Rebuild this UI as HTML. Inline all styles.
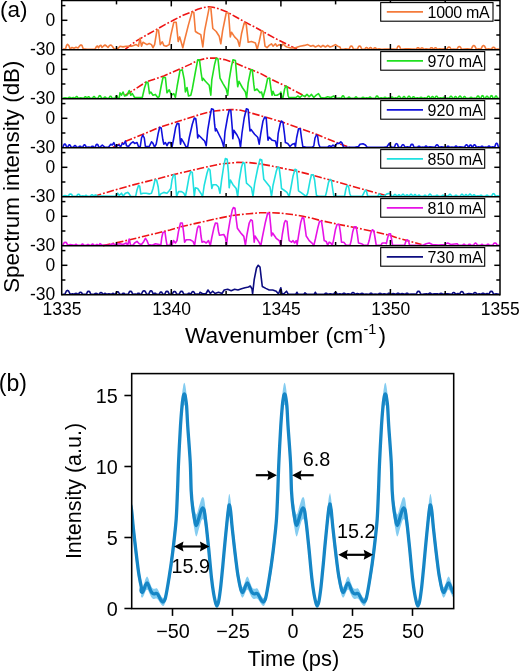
<!DOCTYPE html>
<html><head><meta charset="utf-8"><title>Figure</title>
<style>html,body{margin:0;padding:0;background:#fff}svg{display:block}text{font-family:"Liberation Sans",sans-serif;fill:#000}</style></head><body>
<svg width="520" height="671" viewBox="0 0 520 671">
<rect width="520" height="671" fill="#fff"/>
<g id="pa">
<polyline fill="none" stroke="#ee1414" stroke-width="1.6" stroke-dasharray="7.5 2 1.8 2" points="125.4,49.2 135.4,41.5 146.0,35.3 157.0,29.2 165.0,24.6 173.8,20.0 183.0,15.3 190.0,12.5 197.7,9.2 203.0,7.6 208.5,6.9 213.0,7.3 217.7,8.5 222.0,10.0 227.0,12.0 236.0,17.0 245.4,22.3 254.6,27.0 262.3,31.2 275.4,38.5 286.0,43.8 297.0,49.2"/>
<polyline fill="none" stroke="#f47a3a" stroke-width="1.6" stroke-linejoin="round" points="63.0,49.0 65.5,49.0 66.5,45.5 67.5,44.3 68.8,45.5 70.0,48.8 72.0,47.5 74.0,48.3 76.0,47.3 78.0,48.0 80.0,45.5 81.0,44.8 82.0,45.5 83.2,48.8 87.0,49.2 95.0,49.2 96.5,46.5 97.5,46.0 98.5,47.8 99.8,45.8 101.0,45.3 102.0,47.5 103.5,46.0 105.0,45.0 106.5,46.0 108.0,47.5 109.5,45.5 111.0,45.0 112.5,46.5 114.0,48.8 117.0,49.0 119.0,47.5 120.0,46.2 123.0,46.9 126.2,46.2 131.5,46.2 136.2,44.6 138.5,46.2 140.0,38.2 141.5,46.2 143.0,42.3 147.0,44.6 149.2,43.5 151.5,44.6 153.0,47.7 154.6,44.6 157.0,30.0 158.5,30.0 160.3,44.6 162.3,41.8 163.8,45.4 166.2,46.2 169.2,44.6 170.8,35.4 173.8,22.3 176.2,22.3 178.2,41.5 179.7,36.9 182.8,47.7 184.6,40.0 188.5,24.6 192.0,12.3 193.8,12.3 195.4,31.5 197.7,33.0 200.8,34.6 202.8,46.9 204.6,30.8 209.2,7.7 210.8,7.7 212.8,28.5 216.2,31.5 219.2,36.2 220.8,43.8 222.6,30.8 226.2,13.0 228.5,13.0 230.3,36.9 231.5,32.3 234.6,36.9 237.7,40.0 239.5,46.2 241.5,33.8 244.2,23.0 246.2,23.8 248.2,42.3 251.5,41.5 255.4,43.0 257.2,49.2 259.2,41.5 261.5,30.8 263.2,31.5 265.0,46.2 267.0,47.7 269.2,45.4 271.5,43.8 273.0,46.2 275.4,43.8 277.0,46.2 279.2,44.6 281.5,46.2 283.0,43.8 285.4,46.2 287.0,47.0 291.0,48.0 295.4,47.7 300.0,46.2 304.6,45.4 307.7,44.6 310.8,46.2 313.0,45.4 315.4,47.0 318.5,45.4 320.8,47.0 323.0,45.4 325.4,47.0 327.7,45.4 330.0,47.0 332.3,46.2 335.4,44.6 337.7,46.2 340.0,47.0 340.8,49.2 343.3,49.2 345.7,48.8 349.1,49.2 350.3,46.5 351.3,46.0 352.3,46.5 353.5,49.2 357.4,49.2 358.6,46.5 359.6,46.0 360.6,46.5 361.8,49.2 364.9,49.2 365.8,47.8 366.5,47.6 367.2,47.8 368.1,49.2 368.9,49.2 369.8,47.8 370.5,47.6 371.2,47.8 372.1,49.2 373.4,49.2 374.3,48.0 375.0,47.8 375.7,48.0 376.6,49.2 379.1,48.7 381.7,49.2 384.6,49.1 386.6,49.0 389.5,49.1 393.2,49.0 396.7,49.2 397.8,46.5 398.7,46.0 399.6,46.5 400.7,49.2 403.2,49.0 405.4,48.9 408.8,48.9 412.0,49.1 414.3,49.1 416.1,49.2 417.2,47.9 418.0,47.7 418.8,47.9 419.9,49.2 420.4,49.2 421.3,48.1 422.0,47.9 422.7,48.1 423.6,49.2 426.1,48.7 429.6,49.2 430.7,47.9 431.5,47.7 432.3,47.9 433.4,49.2 433.9,49.2 434.8,47.9 435.5,47.7 436.2,47.9 437.1,49.2 439.6,48.7 441.9,49.1 445.2,48.7 447.0,49.2 448.1,47.3 449.0,47.0 449.9,47.3 451.0,49.2 453.5,49.1 457.1,49.2 458.3,46.9 459.3,46.5 460.3,46.9 461.5,49.2 464.0,49.1 467.5,48.9 471.3,49.2 472.7,46.1 473.8,45.5 474.9,46.1 476.3,49.2 478.8,48.7 481.0,49.2 482.4,46.1 483.5,45.5 484.6,46.1 486.0,49.2 488.5,48.9 491.5,49.2 492.6,47.5 493.5,47.2 494.4,47.5 495.5,49.2 498.0,49.0 499.5,49.2"/>
<polyline fill="none" stroke="#ee1414" stroke-width="1.6" stroke-dasharray="7.5 2 1.8 2" points="125.4,95.2 135.4,89.0 146.0,82.0 163.8,76.0 181.5,68.2 190.0,64.4 197.7,60.5 207.0,58.2 216.2,58.0 225.4,59.8 234.6,62.8 243.8,66.7 251.5,69.8 260.8,73.6 269.2,78.2 278.5,82.8 287.0,86.7 295.4,91.3 304.6,96.0 308.0,98.0"/>
<polyline fill="none" stroke="#1fe01f" stroke-width="1.6" stroke-linejoin="round" points="62.5,98.2 65.0,97.9 68.2,98.2 68.9,97.4 69.5,97.2 70.1,97.4 70.8,98.2 73.3,97.6 75.3,98.2 76.1,96.8 76.7,96.6 77.3,96.8 78.1,98.2 80.6,97.9 84.0,98.2 84.8,96.9 85.4,96.7 86.0,96.9 86.8,98.2 87.2,98.2 88.0,96.9 88.6,96.7 89.2,96.9 90.0,98.2 92.6,98.2 93.4,96.8 94.0,96.6 94.6,96.8 95.4,98.2 98.1,98.2 99.1,96.0 99.8,95.6 100.5,96.0 101.5,98.2 103.7,98.2 104.4,97.2 105.0,97.0 105.6,97.2 106.3,98.2 109.0,98.2 109.8,96.5 110.5,96.2 111.2,96.5 112.0,98.2 115.1,98.2 115.9,96.3 116.5,96.0 117.1,96.3 117.9,98.2 119.2,98.2 120.0,92.8 121.5,95.2 123.0,92.0 124.6,96.0 127.0,95.2 129.2,90.5 130.8,95.2 132.3,93.6 134.6,97.5 142.3,97.5 144.6,87.5 146.5,82.0 148.0,82.8 149.5,93.6 150.8,92.0 153.0,95.2 155.4,94.4 157.7,97.5 159.2,96.7 161.2,86.0 163.0,77.5 165.4,77.5 167.0,92.8 169.2,89.8 171.5,95.2 173.8,93.6 175.4,97.5 177.2,86.0 180.0,70.5 182.3,69.8 184.3,79.8 185.4,92.0 187.0,87.5 188.5,96.0 190.8,95.2 192.3,89.0 195.4,72.0 197.7,59.8 199.5,59.8 201.0,72.0 202.3,80.5 203.0,78.2 205.4,81.3 209.2,85.2 210.8,95.2 211.8,79.8 214.6,64.4 216.2,58.2 218.0,59.0 220.0,78.2 223.0,83.6 226.2,89.0 227.7,95.2 229.2,79.8 231.5,66.0 233.0,59.8 235.4,60.5 237.0,79.8 237.7,86.7 239.0,81.3 242.3,87.5 245.4,92.0 246.6,98.2 248.2,82.8 250.8,69.8 252.3,69.8 253.8,84.4 254.6,90.5 257.0,89.0 260.0,92.8 261.5,92.0 263.0,97.5 265.4,89.0 267.7,78.2 269.5,78.2 271.0,89.0 272.0,95.2 273.0,91.3 274.6,95.2 277.0,95.2 280.0,93.6 280.8,92.0 281.8,98.2 283.0,97.5 284.6,89.0 285.8,86.0 287.0,86.7 288.0,95.2 289.2,98.2 290.8,97.5 296.0,97.5 297.7,96.0 300.0,97.5 302.3,95.2 304.6,96.7 307.0,94.4 309.2,96.7 311.5,94.4 313.8,97.5 316.2,95.2 318.5,93.6 320.8,97.5 324.6,98.0 327.7,96.7 330.8,97.5 333.8,96.0 335.4,98.2 340.0,98.0 340.8,98.2 341.4,98.2 342.3,96.1 343.0,95.7 343.7,96.1 344.6,98.2 347.6,98.2 348.4,97.2 349.0,97.0 349.6,97.2 350.4,98.2 352.9,98.2 354.6,98.2 355.4,97.1 356.0,96.9 356.6,97.1 357.4,98.2 359.9,98.2 361.7,98.2 362.4,97.4 363.0,97.2 363.6,97.4 364.3,98.2 366.8,97.7 368.6,98.2 369.4,97.2 370.0,97.0 370.6,97.2 371.4,98.2 375.4,98.2 376.3,96.3 377.0,96.0 377.7,96.3 378.6,98.2 381.1,97.9 383.7,98.2 384.4,97.4 385.0,97.2 385.6,97.4 386.3,98.2 388.8,97.9 390.7,98.2 391.4,97.2 392.0,97.0 392.6,97.2 393.3,98.2 395.8,97.8 397.4,98.2 398.3,96.5 399.0,96.2 399.7,96.5 400.6,98.2 402.6,98.2 403.4,96.8 404.0,96.6 404.6,96.8 405.4,98.2 407.4,98.2 408.3,96.5 409.0,96.2 409.7,96.5 410.6,98.2 412.1,98.2 412.9,96.9 413.5,96.7 414.1,96.9 414.9,98.2 417.4,97.9 419.7,98.2 420.4,97.4 421.0,97.2 421.6,97.4 422.3,98.2 424.8,97.9 426.9,98.2 427.8,96.5 428.5,96.2 429.2,96.5 430.1,98.2 431.1,98.2 431.9,96.8 432.5,96.6 433.1,96.8 433.9,98.2 434.9,98.2 435.8,96.5 436.5,96.2 437.2,96.5 438.1,98.2 440.6,97.8 442.7,98.2 443.4,97.4 444.0,97.2 444.6,97.4 445.3,98.2 447.8,98.0 449.4,98.2 450.3,96.5 451.0,96.2 451.7,96.5 452.6,98.2 454.1,98.2 454.9,96.8 455.5,96.6 456.1,96.8 456.9,98.2 458.4,98.2 459.3,96.4 460.0,96.1 460.7,96.4 461.6,98.2 463.1,98.2 463.9,96.8 464.5,96.6 465.1,96.8 465.9,98.2 469.7,98.2 470.4,97.4 471.0,97.2 471.6,97.4 472.3,98.2 474.8,98.0 476.4,98.2 477.3,96.3 478.0,96.0 478.7,96.3 479.6,98.2 480.9,98.2 481.8,96.0 482.5,95.6 483.2,96.0 484.1,98.2 485.5,98.2 486.3,96.5 487.0,96.2 487.7,96.5 488.5,98.2 489.9,98.2 490.8,96.0 491.5,95.6 492.2,96.0 493.1,98.2 494.6,98.2 495.4,96.3 496.0,96.0 496.6,96.3 497.4,98.2 499.5,98.2"/>
<polyline fill="none" stroke="#ee1414" stroke-width="1.6" stroke-dasharray="7.5 2 1.8 2" points="113.0,147.2 124.6,141.8 143.0,134.2 160.0,127.2 170.0,124.0 177.7,121.6 187.0,118.6 196.2,115.7 205.4,113.0 214.6,111.0 223.8,110.0 231.5,109.5 240.8,110.2 249.2,112.5 264.6,116.8 281.5,121.8 299.2,128.0 317.0,134.5 327.0,138.8 337.7,143.0 350.0,147.5"/>
<polyline fill="none" stroke="#1010dc" stroke-width="1.6" stroke-linejoin="round" points="62.5,147.2 62.9,147.2 64.0,144.5 64.8,144.0 65.6,144.5 66.7,147.2 67.8,147.2 68.7,145.2 69.4,144.8 70.1,145.2 71.1,147.2 73.5,147.2 74.3,145.8 75.0,145.6 75.7,145.8 76.5,147.2 78.7,147.2 79.4,146.3 80.0,146.2 80.6,146.3 81.3,147.2 82.8,147.2 83.8,145.1 84.5,144.7 85.2,145.1 86.2,147.2 88.7,147.1 91.2,147.2 91.9,146.3 92.5,146.2 93.1,146.3 93.8,147.2 95.2,147.2 96.2,144.6 97.0,144.2 97.8,144.6 98.8,147.2 99.2,147.2 100.0,147.2 102.3,145.0 104.6,147.2 108.5,147.2 110.8,144.2 112.3,145.0 113.8,142.6 115.4,146.5 118.5,145.0 120.8,146.5 122.3,143.4 123.8,144.2 125.4,141.0 126.5,145.7 128.5,146.5 130.8,143.4 133.0,141.8 134.6,143.4 137.0,142.6 138.5,146.5 140.3,146.5 141.5,138.0 142.8,135.0 144.3,138.0 145.4,146.5 149.2,146.5 151.5,141.8 153.0,143.4 154.6,147.2 156.2,144.2 158.2,133.4 159.7,127.2 161.2,128.0 162.8,139.5 163.8,144.2 165.4,142.6 167.0,145.7 168.5,142.6 170.8,142.6 172.0,147.2 173.5,139.5 175.7,127.2 177.2,123.4 178.9,123.8 180.0,138.0 180.5,144.2 181.5,138.8 183.8,142.6 186.2,147.2 187.7,146.5 189.2,138.0 192.3,124.2 194.3,118.0 195.8,118.8 197.0,128.8 197.7,138.0 198.5,135.0 202.3,138.8 204.6,141.0 206.2,145.7 207.7,130.3 210.0,116.5 211.5,108.8 213.4,109.5 214.6,124.2 215.4,131.0 216.2,128.8 219.2,135.0 221.5,139.5 223.0,144.2 223.8,147.2 225.0,131.8 227.7,116.5 229.2,110.3 230.8,110.3 232.3,128.8 232.8,138.8 233.8,130.3 237.0,135.0 239.2,139.5 240.5,147.2 242.0,133.0 244.2,118.0 246.4,108.8 248.1,109.5 249.2,122.6 250.0,131.0 251.0,129.5 254.6,134.2 257.7,137.2 259.2,144.2 260.8,133.4 263.0,121.0 264.6,117.2 266.2,118.0 267.4,133.4 268.0,140.3 269.0,137.2 272.3,140.3 275.4,141.0 277.0,147.2 278.2,133.4 280.3,123.4 281.5,121.0 283.0,122.6 284.6,135.0 285.4,142.6 287.7,143.4 290.0,146.5 292.3,144.2 294.6,143.4 295.4,147.2 296.6,138.0 298.5,128.8 300.3,128.8 301.5,138.0 302.8,146.5 306.2,147.2 312.3,147.2 313.8,146.0 315.0,138.0 316.4,135.0 317.6,136.0 318.7,144.0 320.0,147.2 327.7,147.2 329.2,145.7 331.5,146.5 333.0,145.0 334.6,146.5 337.0,143.4 339.2,143.4 340.8,141.8 342.3,143.4 343.5,147.2 354.6,147.2 358.5,146.5 360.0,144.2 363.0,143.8 365.4,145.0 367.2,147.2 383.8,147.2 387.0,146.8 389.2,143.4 391.0,146.8 391.8,147.2 394.5,147.2 395.6,144.1 396.5,143.6 397.4,144.1 398.5,147.2 401.1,147.2 402.2,145.0 403.0,144.6 403.8,145.0 404.9,147.2 407.4,146.7 410.0,147.2 411.1,144.6 412.0,144.2 412.9,144.6 414.0,147.2 417.7,147.2 418.4,146.3 419.0,146.2 419.6,146.3 420.3,147.2 422.8,147.0 424.6,147.2 425.4,146.2 426.0,146.0 426.6,146.2 427.4,147.2 429.9,146.8 435.1,147.2 436.2,145.1 437.0,144.7 437.8,145.1 438.9,147.2 441.4,146.9 445.1,147.2 446.7,147.2 447.4,146.3 448.0,146.2 448.6,146.3 449.3,147.2 451.8,147.1 454.6,147.2 455.4,146.2 456.0,146.0 456.6,146.2 457.4,147.2 459.9,146.8 464.6,147.2 465.7,145.1 466.5,144.7 467.3,145.1 468.4,147.2 468.9,147.2 469.8,145.3 470.5,145.0 471.2,145.3 472.1,147.2 472.7,147.2 473.7,145.1 474.5,144.7 475.3,145.1 476.3,147.2 478.8,146.9 480.7,147.2 481.4,146.3 482.0,146.2 482.6,146.3 483.3,147.2 485.8,147.0 487.6,147.2 488.4,146.2 489.0,146.0 489.6,146.2 490.4,147.2 492.9,146.9 494.7,147.2 495.8,143.8 496.6,143.2 497.4,143.8 498.5,147.2 499.5,147.2"/>
<polyline fill="none" stroke="#ee1414" stroke-width="1.6" stroke-dasharray="7.5 2 1.8 2" points="94.0,196.5 100.0,194.5 115.4,189.8 130.8,185.5 146.2,181.6 161.5,177.8 170.0,175.4 179.2,173.2 190.0,170.8 200.8,168.2 210.0,166.2 219.2,164.2 228.5,163.2 237.7,162.4 249.2,162.6 260.0,163.9 270.8,165.8 280.0,167.8 295.4,170.8 307.7,173.9 319.2,177.0 330.0,180.0 347.0,184.7 365.4,190.0 377.7,193.2 387.0,196.0"/>
<polyline fill="none" stroke="#1fe0e0" stroke-width="1.6" stroke-linejoin="round" points="62.5,196.2 65.0,195.6 68.3,196.2 69.5,194.3 70.5,194.0 71.5,194.3 72.7,196.2 76.6,196.2 77.7,194.5 78.5,194.2 79.3,194.5 80.4,196.2 82.9,195.8 84.7,196.2 85.4,195.5 86.0,195.4 86.6,195.5 87.3,196.2 90.3,196.2 91.3,194.9 92.0,194.7 92.7,194.9 93.7,196.2 94.1,196.2 94.9,195.1 95.5,194.9 96.1,195.1 96.9,196.2 99.2,196.2 100.0,196.0 115.4,196.2 117.7,193.2 119.2,195.5 121.5,193.2 123.0,196.2 125.4,193.2 127.7,192.4 129.2,193.9 130.8,196.5 135.7,196.2 137.0,190.0 138.5,185.5 139.7,186.2 140.8,193.9 143.0,193.2 146.2,193.2 149.2,193.9 151.5,193.2 153.0,188.5 155.0,180.0 156.6,180.0 158.2,187.0 159.2,196.2 160.8,193.9 163.8,192.4 167.0,193.2 169.2,190.8 170.8,188.5 172.0,180.0 173.5,174.7 175.0,175.5 175.9,187.0 176.6,196.5 178.5,191.6 181.5,191.6 183.8,193.2 185.4,196.5 187.0,188.5 189.2,176.2 190.8,171.6 192.3,172.4 193.4,185.5 194.3,196.2 195.4,187.8 197.7,188.5 200.8,193.2 202.6,196.5 204.2,185.5 207.0,173.2 208.5,168.5 210.0,170.0 211.2,182.4 211.8,188.5 213.0,184.7 216.2,184.7 218.5,187.0 220.0,193.2 221.5,180.8 223.8,165.5 225.4,158.5 227.2,159.3 228.5,173.2 229.2,187.8 230.3,180.0 233.0,184.7 236.2,188.5 237.7,196.5 239.2,180.8 241.5,167.0 243.0,162.4 244.6,163.2 245.8,176.2 246.5,183.2 249.2,185.5 251.5,187.8 253.0,196.5 254.6,183.9 257.7,168.5 260.0,159.3 261.8,160.0 263.0,171.6 263.8,179.3 267.0,183.2 270.0,187.0 271.5,196.5 273.0,185.5 276.2,171.6 277.7,167.0 279.2,167.8 280.8,180.8 281.5,188.5 283.8,190.0 287.0,192.4 289.2,196.5 290.8,188.5 293.0,176.2 295.0,169.3 296.6,170.0 297.7,180.8 298.5,190.8 300.8,192.4 303.8,194.7 306.2,196.5 307.7,193.2 310.0,180.8 311.5,174.7 313.3,174.7 314.6,180.0 315.4,187.0 316.5,195.5 318.5,196.2 325.4,196.2 326.6,191.6 328.5,182.4 330.0,179.3 331.5,180.8 332.8,190.0 333.8,196.2 344.6,196.2 345.7,190.0 347.0,185.5 348.5,186.2 349.7,193.2 350.8,196.2 362.3,196.2 363.8,193.2 365.4,190.0 366.6,191.6 367.7,196.2 377.7,196.2 379.2,193.9 380.8,195.5 383.8,196.2 387.0,193.9 390.0,193.2 391.5,196.0 392.3,196.2 393.4,196.2 394.3,194.7 395.0,194.4 395.7,194.7 396.6,196.2 397.6,196.2 398.4,195.0 399.0,194.8 399.6,195.0 400.4,196.2 401.4,196.2 402.3,194.5 403.0,194.2 403.7,194.5 404.6,196.2 405.6,196.2 406.4,194.9 407.0,194.7 407.6,194.9 408.4,196.2 409.4,196.2 410.3,194.5 411.0,194.2 411.7,194.5 412.6,196.2 413.6,196.2 414.4,194.8 415.0,194.6 415.6,194.8 416.4,196.2 417.7,196.2 418.4,195.2 419.0,195.0 419.6,195.2 420.3,196.2 423.7,196.2 424.4,195.4 425.0,195.3 425.6,195.4 426.3,196.2 428.4,196.2 429.3,194.4 430.0,194.1 430.7,194.4 431.6,196.2 434.1,196.1 435.7,196.2 436.4,195.4 437.0,195.3 437.6,195.4 438.3,196.2 441.7,196.2 442.4,195.3 443.0,195.2 443.6,195.3 444.3,196.2 446.8,195.8 448.4,196.2 449.3,194.5 450.0,194.2 450.7,194.5 451.6,196.2 454.7,196.2 455.4,195.4 456.0,195.3 456.6,195.4 457.3,196.2 460.4,196.2 461.3,194.5 462.0,194.2 462.7,194.5 463.6,196.2 464.6,196.2 465.4,194.8 466.0,194.6 466.6,194.8 467.4,196.2 468.4,196.2 469.3,194.4 470.0,194.1 470.7,194.4 471.6,196.2 472.6,196.2 473.4,195.0 474.0,194.8 474.6,195.0 475.4,196.2 477.9,195.7 479.7,196.2 480.4,195.4 481.0,195.3 481.6,195.4 482.3,196.2 485.7,196.2 486.4,195.3 487.0,195.2 487.6,195.3 488.3,196.2 491.6,196.2 492.7,194.0 493.5,193.6 494.3,194.0 495.4,196.2 497.9,195.7 499.5,196.2"/>
<polyline fill="none" stroke="#ee1414" stroke-width="1.6" stroke-dasharray="7.5 2 1.8 2" points="103.0,245.6 115.4,243.0 130.8,239.5 146.2,235.8 161.5,232.0 170.0,230.0 180.8,226.8 199.2,222.6 216.2,218.8 231.5,215.7 240.0,214.6 249.2,213.7 260.0,212.8 270.8,212.6 281.5,213.2 292.3,214.5 303.0,216.3 312.3,218.3 319.2,220.2 337.7,224.2 354.6,227.5 373.0,231.4 389.2,235.2 398.5,238.3 410.8,241.6 421.5,244.5"/>
<polyline fill="none" stroke="#e612e6" stroke-width="1.6" stroke-linejoin="round" points="62.5,245.2 62.9,245.2 64.2,242.6 65.3,242.2 66.4,242.6 67.7,245.2 70.2,244.6 74.7,245.2 75.4,244.5 76.0,244.4 76.6,244.5 77.3,245.2 81.1,245.2 81.9,244.3 82.5,244.1 83.1,244.3 83.9,245.2 86.7,245.2 87.4,244.6 88.0,244.5 88.6,244.6 89.3,245.2 91.2,245.2 92.0,244.3 92.6,244.1 93.2,244.3 94.0,245.2 95.8,245.2 96.5,244.6 97.0,244.5 97.5,244.6 98.2,245.2 99.2,245.2 100.0,243.7 102.3,245.2 109.2,245.2 112.3,243.7 115.4,244.5 120.0,243.7 123.0,244.5 126.2,243.0 127.7,245.2 129.2,239.0 130.5,245.2 133.0,245.2 134.6,243.0 137.0,241.4 139.2,243.7 141.5,244.5 143.8,241.4 145.4,238.3 147.0,240.6 148.5,244.5 152.3,245.2 155.4,243.7 159.2,244.5 160.8,245.2 161.8,237.5 163.0,232.2 165.0,232.2 166.2,240.6 167.0,245.2 170.0,245.2 171.0,241.5 172.2,244.5 173.5,240.6 175.4,243.0 177.0,240.6 178.5,231.4 180.5,223.0 182.3,223.0 183.5,231.4 184.6,242.2 186.2,239.8 190.0,239.8 193.0,241.4 194.6,245.2 195.8,237.5 197.4,228.3 198.5,226.0 200.0,226.8 201.0,236.0 202.0,242.2 203.8,241.4 206.2,243.0 208.5,240.6 210.3,245.5 211.8,237.5 213.8,228.3 215.4,223.0 217.4,223.4 218.5,231.4 219.5,235.2 223.8,234.5 225.4,237.5 226.6,245.5 227.7,234.5 230.0,220.6 232.3,209.8 233.4,207.5 235.0,208.3 236.2,219.0 237.4,228.3 240.8,233.0 243.8,236.4 245.4,245.2 247.0,234.5 249.2,223.0 250.8,219.8 252.3,220.6 253.5,233.0 254.2,242.2 255.0,236.0 258.5,241.4 260.8,245.5 262.3,237.5 265.4,222.2 267.7,213.0 269.5,213.7 270.8,226.8 271.5,236.0 272.6,233.0 276.2,238.3 279.2,240.6 280.8,245.5 282.3,234.5 284.3,223.0 285.4,220.6 287.0,221.4 288.5,236.0 289.2,240.6 291.5,242.2 293.0,240.6 294.6,243.0 296.2,240.6 297.2,244.5 298.5,236.0 300.8,222.2 302.3,217.5 303.8,218.3 305.4,229.8 306.2,236.0 309.2,240.6 312.3,243.4 313.8,245.5 315.4,239.0 317.7,228.3 319.5,221.4 321.5,221.4 323.0,231.4 324.2,240.6 326.2,241.4 327.7,245.2 329.2,242.2 330.8,243.0 332.3,245.2 333.4,240.6 335.4,229.8 337.0,224.5 339.2,224.5 340.5,233.0 341.5,242.2 343.8,242.2 346.2,245.2 350.0,245.2 351.2,240.6 352.8,231.4 354.3,226.8 356.2,226.8 357.4,234.5 358.5,243.0 361.5,243.7 363.8,245.2 367.7,245.2 369.2,240.6 370.8,233.0 372.3,229.8 373.8,230.6 375.0,237.5 376.2,245.2 380.8,245.2 382.3,243.0 385.4,243.0 386.4,243.7 387.7,237.5 389.0,233.7 390.5,233.7 391.5,239.0 392.6,245.2 404.6,245.2 405.8,241.4 407.0,239.8 408.5,240.6 409.5,245.2 423.0,245.2 426.2,243.7 429.2,243.0 432.3,244.5 438.5,245.0 444.6,244.5 447.7,243.0 450.8,244.5 457.0,243.7 458.5,245.0 459.3,245.2 462.6,245.2 463.4,244.4 464.0,244.3 464.6,244.4 465.4,245.2 468.1,245.2 468.9,244.3 469.5,244.2 470.1,244.3 470.9,245.2 473.6,245.2 474.7,243.4 475.5,243.1 476.3,243.4 477.4,245.2 480.7,245.2 481.4,244.5 482.0,244.4 482.6,244.5 483.3,245.2 486.7,245.2 487.4,244.4 488.0,244.3 488.6,244.4 489.3,245.2 492.8,245.2 494.0,243.2 495.0,242.9 496.0,243.2 497.2,245.2 499.5,245.2"/>
<polyline fill="none" stroke="#0c0c80" stroke-width="1.6" stroke-linejoin="round" points="62.5,294.2 64.9,294.2 66.4,291.0 67.5,290.4 68.6,291.0 70.1,294.2 72.6,293.7 74.4,294.2 75.3,293.5 76.0,293.4 76.7,293.5 77.6,294.2 78.5,294.2 79.6,292.5 80.5,292.2 81.4,292.5 82.5,294.2 86.4,294.2 87.6,291.6 88.6,291.2 89.6,291.6 90.8,294.2 94.4,294.2 95.3,293.5 96.0,293.4 96.7,293.5 97.6,294.2 99.2,294.2 100.2,292.8 101.0,292.6 101.8,292.8 102.8,294.2 103.6,294.2 104.4,293.5 105.0,293.4 105.6,293.5 106.4,294.2 108.9,293.7 111.6,294.2 112.4,293.5 113.0,293.4 113.6,293.5 114.4,294.2 115.4,294.2 116.6,292.1 117.5,291.7 118.4,292.1 119.6,294.2 122.1,294.2 122.9,293.3 123.5,293.2 124.1,293.3 124.9,294.2 128.3,294.2 129.5,291.6 130.5,291.2 131.5,291.6 132.7,294.2 135.2,294.0 136.9,294.2 137.8,293.3 138.5,293.2 139.2,293.3 140.1,294.2 141.4,294.2 142.9,291.2 144.0,290.7 145.1,291.2 146.6,294.2 148.7,294.2 150.0,291.3 151.0,290.8 152.0,291.3 153.3,294.2 153.6,294.2 154.4,293.3 155.0,293.2 155.6,293.3 156.4,294.2 159.3,294.2 160.3,292.2 161.0,291.9 161.7,292.2 162.7,294.2 164.8,294.2 166.0,291.6 167.0,291.2 168.0,291.6 169.2,294.2 172.2,294.2 173.5,291.8 174.5,291.4 175.5,291.8 176.8,294.2 179.2,294.2 180.5,291.6 181.5,291.2 182.5,291.6 183.8,294.2 187.6,294.2 188.4,293.3 189.0,293.2 189.6,293.3 190.4,294.2 190.9,294.2 192.1,292.0 193.0,291.6 193.9,292.0 195.1,294.2 197.6,294.0 199.2,294.2 200.0,292.3 202.3,293.5 205.8,294.0 208.0,290.0 210.4,293.5 212.7,291.2 215.0,293.5 218.5,292.3 222.0,293.5 224.2,290.0 227.7,289.3 231.2,290.7 234.6,289.3 238.0,290.0 241.5,288.8 245.0,287.7 248.5,287.0 250.3,286.0 252.0,288.8 252.6,294.0 254.2,279.6 256.5,268.0 258.2,265.3 260.0,267.0 261.2,277.3 262.3,286.5 265.8,288.4 269.2,290.0 272.7,290.0 276.2,291.2 278.5,294.0 280.8,287.7 282.0,294.0 284.2,293.5 286.5,291.2 288.2,294.2 295.8,294.2 297.0,292.3 298.0,294.2 303.8,294.2 305.0,292.8 306.6,294.2 314.2,294.2 315.4,292.3 316.5,294.2 320.0,294.2 320.8,294.2 324.4,294.2 325.3,293.3 326.0,293.2 326.7,293.3 327.6,294.2 330.1,293.9 333.7,294.2 334.7,292.8 335.5,292.6 336.3,292.8 337.3,294.2 339.8,293.9 342.4,294.2 343.3,293.4 344.0,293.3 344.7,293.4 345.6,294.2 348.1,293.7 351.2,294.2 352.2,292.8 353.0,292.6 353.8,292.8 354.8,294.2 357.3,293.6 360.4,294.2 361.3,293.5 362.0,293.4 362.7,293.5 363.6,294.2 366.1,294.1 369.4,294.2 370.3,293.3 371.0,293.2 371.7,293.3 372.6,294.2 375.1,294.1 378.4,294.2 379.3,293.5 380.0,293.4 380.7,293.5 381.6,294.2 384.1,293.8 387.4,294.2 388.3,293.3 389.0,293.2 389.7,293.3 390.6,294.2 393.1,293.6 396.4,294.2 397.3,293.4 398.0,293.3 398.7,293.4 399.6,294.2 402.1,293.6 405.4,294.2 406.3,293.3 407.0,293.2 407.7,293.3 408.6,294.2 411.1,294.0 414.3,294.0 416.2,294.2 417.5,291.6 418.5,291.2 419.5,291.6 420.8,294.2 423.3,294.1 426.6,293.7 428.3,294.2 429.3,293.3 430.0,293.1 430.7,293.3 431.7,294.2 434.2,293.8 437.3,293.8 439.4,294.2 440.3,293.5 441.0,293.4 441.7,293.5 442.6,294.2 445.1,293.9 447.8,293.9 451.9,294.2 452.9,292.8 453.7,292.6 454.5,292.8 455.5,294.2 458.0,293.6 459.6,294.2 460.8,292.0 461.8,291.6 462.8,292.0 464.0,294.2 466.5,294.0 468.7,293.6 471.1,293.8 473.2,294.2 474.2,292.8 475.0,292.6 475.8,292.8 476.8,294.2 479.3,293.9 481.4,294.2 482.3,293.4 483.0,293.3 483.7,293.4 484.6,294.2 487.1,293.6 489.0,294.2 490.3,291.6 491.3,291.2 492.3,291.6 493.6,294.2 496.1,293.9 499.5,294.2"/>
<g stroke="#000" stroke-width="1.5" fill="none">
<line x1="61.7" y1="0" x2="61.7" y2="295.4"/>
<line x1="500.0" y1="0" x2="500.0" y2="295.4"/>
<line x1="61.7" y1="0.5" x2="500.0" y2="0.5"/>
<line x1="61.7" y1="49.7" x2="500.0" y2="49.7"/>
<line x1="61.7" y1="5.6" x2="65.4" y2="5.6"/>
<line x1="500.0" y1="5.6" x2="496.3" y2="5.6"/>
<line x1="61.7" y1="20.3" x2="67.4" y2="20.3"/>
<line x1="500.0" y1="20.3" x2="494.3" y2="20.3"/>
<line x1="61.7" y1="35.0" x2="65.4" y2="35.0"/>
<line x1="500.0" y1="35.0" x2="496.3" y2="35.0"/>
<line x1="116.5" y1="49.7" x2="116.5" y2="46.0"/>
<line x1="171.3" y1="49.7" x2="171.3" y2="44.0"/>
<line x1="226.1" y1="49.7" x2="226.1" y2="46.0"/>
<line x1="280.9" y1="49.7" x2="280.9" y2="44.0"/>
<line x1="335.6" y1="49.7" x2="335.6" y2="46.0"/>
<line x1="390.4" y1="49.7" x2="390.4" y2="44.0"/>
<line x1="445.2" y1="49.7" x2="445.2" y2="46.0"/>
<line x1="61.7" y1="98.7" x2="500.0" y2="98.7"/>
<line x1="61.7" y1="54.6" x2="65.4" y2="54.6"/>
<line x1="500.0" y1="54.6" x2="496.3" y2="54.6"/>
<line x1="61.7" y1="69.3" x2="67.4" y2="69.3"/>
<line x1="500.0" y1="69.3" x2="494.3" y2="69.3"/>
<line x1="61.7" y1="84.0" x2="65.4" y2="84.0"/>
<line x1="500.0" y1="84.0" x2="496.3" y2="84.0"/>
<line x1="116.5" y1="98.7" x2="116.5" y2="95.0"/>
<line x1="171.3" y1="98.7" x2="171.3" y2="93.0"/>
<line x1="226.1" y1="98.7" x2="226.1" y2="95.0"/>
<line x1="280.9" y1="98.7" x2="280.9" y2="93.0"/>
<line x1="335.6" y1="98.7" x2="335.6" y2="95.0"/>
<line x1="390.4" y1="98.7" x2="390.4" y2="93.0"/>
<line x1="445.2" y1="98.7" x2="445.2" y2="95.0"/>
<line x1="61.7" y1="147.7" x2="500.0" y2="147.7"/>
<line x1="61.7" y1="103.6" x2="65.4" y2="103.6"/>
<line x1="500.0" y1="103.6" x2="496.3" y2="103.6"/>
<line x1="61.7" y1="118.3" x2="67.4" y2="118.3"/>
<line x1="500.0" y1="118.3" x2="494.3" y2="118.3"/>
<line x1="61.7" y1="133.0" x2="65.4" y2="133.0"/>
<line x1="500.0" y1="133.0" x2="496.3" y2="133.0"/>
<line x1="116.5" y1="147.7" x2="116.5" y2="144.0"/>
<line x1="171.3" y1="147.7" x2="171.3" y2="142.0"/>
<line x1="226.1" y1="147.7" x2="226.1" y2="144.0"/>
<line x1="280.9" y1="147.7" x2="280.9" y2="142.0"/>
<line x1="335.6" y1="147.7" x2="335.6" y2="144.0"/>
<line x1="390.4" y1="147.7" x2="390.4" y2="142.0"/>
<line x1="445.2" y1="147.7" x2="445.2" y2="144.0"/>
<line x1="61.7" y1="196.7" x2="500.0" y2="196.7"/>
<line x1="61.7" y1="152.6" x2="65.4" y2="152.6"/>
<line x1="500.0" y1="152.6" x2="496.3" y2="152.6"/>
<line x1="61.7" y1="167.3" x2="67.4" y2="167.3"/>
<line x1="500.0" y1="167.3" x2="494.3" y2="167.3"/>
<line x1="61.7" y1="182.0" x2="65.4" y2="182.0"/>
<line x1="500.0" y1="182.0" x2="496.3" y2="182.0"/>
<line x1="116.5" y1="196.7" x2="116.5" y2="193.0"/>
<line x1="171.3" y1="196.7" x2="171.3" y2="191.0"/>
<line x1="226.1" y1="196.7" x2="226.1" y2="193.0"/>
<line x1="280.9" y1="196.7" x2="280.9" y2="191.0"/>
<line x1="335.6" y1="196.7" x2="335.6" y2="193.0"/>
<line x1="390.4" y1="196.7" x2="390.4" y2="191.0"/>
<line x1="445.2" y1="196.7" x2="445.2" y2="193.0"/>
<line x1="61.7" y1="245.7" x2="500.0" y2="245.7"/>
<line x1="61.7" y1="201.6" x2="65.4" y2="201.6"/>
<line x1="500.0" y1="201.6" x2="496.3" y2="201.6"/>
<line x1="61.7" y1="216.3" x2="67.4" y2="216.3"/>
<line x1="500.0" y1="216.3" x2="494.3" y2="216.3"/>
<line x1="61.7" y1="231.0" x2="65.4" y2="231.0"/>
<line x1="500.0" y1="231.0" x2="496.3" y2="231.0"/>
<line x1="116.5" y1="245.7" x2="116.5" y2="242.0"/>
<line x1="171.3" y1="245.7" x2="171.3" y2="240.0"/>
<line x1="226.1" y1="245.7" x2="226.1" y2="242.0"/>
<line x1="280.9" y1="245.7" x2="280.9" y2="240.0"/>
<line x1="335.6" y1="245.7" x2="335.6" y2="242.0"/>
<line x1="390.4" y1="245.7" x2="390.4" y2="240.0"/>
<line x1="445.2" y1="245.7" x2="445.2" y2="242.0"/>
<line x1="61.7" y1="294.7" x2="500.0" y2="294.7"/>
<line x1="61.7" y1="250.6" x2="65.4" y2="250.6"/>
<line x1="500.0" y1="250.6" x2="496.3" y2="250.6"/>
<line x1="61.7" y1="265.3" x2="67.4" y2="265.3"/>
<line x1="500.0" y1="265.3" x2="494.3" y2="265.3"/>
<line x1="61.7" y1="280.0" x2="65.4" y2="280.0"/>
<line x1="500.0" y1="280.0" x2="496.3" y2="280.0"/>
<line x1="116.5" y1="294.7" x2="116.5" y2="291.0"/>
<line x1="171.3" y1="294.7" x2="171.3" y2="289.0"/>
<line x1="226.1" y1="294.7" x2="226.1" y2="291.0"/>
<line x1="280.9" y1="294.7" x2="280.9" y2="289.0"/>
<line x1="335.6" y1="294.7" x2="335.6" y2="291.0"/>
<line x1="390.4" y1="294.7" x2="390.4" y2="289.0"/>
<line x1="445.2" y1="294.7" x2="445.2" y2="291.0"/>
<line x1="116.5" y1="0.5" x2="116.5" y2="4.4"/>
<line x1="171.3" y1="0.5" x2="171.3" y2="6.4"/>
<line x1="226.1" y1="0.5" x2="226.1" y2="4.4"/>
<line x1="280.9" y1="0.5" x2="280.9" y2="6.4"/>
<line x1="335.6" y1="0.5" x2="335.6" y2="4.4"/>
<line x1="390.4" y1="0.5" x2="390.4" y2="6.4"/>
<line x1="445.2" y1="0.5" x2="445.2" y2="4.4"/>
</g>
<text x="55.2" y="26.3" font-size="17.5" text-anchor="end">0</text>
<text x="55.2" y="55.2" font-size="17.5" text-anchor="end">-30</text>
<text x="55.2" y="75.3" font-size="17.5" text-anchor="end">0</text>
<text x="55.2" y="104.2" font-size="17.5" text-anchor="end">-30</text>
<text x="55.2" y="124.3" font-size="17.5" text-anchor="end">0</text>
<text x="55.2" y="153.2" font-size="17.5" text-anchor="end">-30</text>
<text x="55.2" y="173.3" font-size="17.5" text-anchor="end">0</text>
<text x="55.2" y="202.2" font-size="17.5" text-anchor="end">-30</text>
<text x="55.2" y="222.3" font-size="17.5" text-anchor="end">0</text>
<text x="55.2" y="251.2" font-size="17.5" text-anchor="end">-30</text>
<text x="55.2" y="271.3" font-size="17.5" text-anchor="end">0</text>
<text x="55.2" y="300.2" font-size="17.5" text-anchor="end">-30</text>
<text x="62.0" y="315.3" font-size="17.5" text-anchor="middle">1335</text>
<text x="171.6" y="315.3" font-size="17.5" text-anchor="middle">1340</text>
<text x="281.2" y="315.3" font-size="17.5" text-anchor="middle">1345</text>
<text x="390.7" y="315.3" font-size="17.5" text-anchor="middle">1350</text>
<text x="500.3" y="315.3" font-size="17.5" text-anchor="middle">1355</text>
<rect x="380.7" y="2.6" width="112.3" height="18.6" fill="#fff" stroke="#000" stroke-width="1.1"/>
<line x1="386.8" y1="11.9" x2="423" y2="11.9" stroke="#f47a3a" stroke-width="1.6"/>
<text x="427.6" y="17.6" font-size="16" letter-spacing="-0.33">1000 mA</text>
<rect x="380.7" y="51.6" width="104.0" height="18.6" fill="#fff" stroke="#000" stroke-width="1.1"/>
<line x1="386.8" y1="60.9" x2="423" y2="60.9" stroke="#1fe01f" stroke-width="1.6"/>
<text x="427.6" y="66.6" font-size="16">970 mA</text>
<rect x="380.7" y="100.6" width="104.0" height="18.6" fill="#fff" stroke="#000" stroke-width="1.1"/>
<line x1="386.8" y1="109.9" x2="423" y2="109.9" stroke="#1010dc" stroke-width="1.6"/>
<text x="427.6" y="115.6" font-size="16">920 mA</text>
<rect x="380.7" y="149.6" width="104.0" height="18.6" fill="#fff" stroke="#000" stroke-width="1.1"/>
<line x1="386.8" y1="158.9" x2="423" y2="158.9" stroke="#1fe0e0" stroke-width="1.6"/>
<text x="427.6" y="164.6" font-size="16">850 mA</text>
<rect x="380.7" y="198.6" width="104.0" height="18.6" fill="#fff" stroke="#000" stroke-width="1.1"/>
<line x1="386.8" y1="207.9" x2="423" y2="207.9" stroke="#e612e6" stroke-width="1.6"/>
<text x="427.6" y="213.6" font-size="16">810 mA</text>
<rect x="380.7" y="247.6" width="104.0" height="18.6" fill="#fff" stroke="#000" stroke-width="1.1"/>
<line x1="386.8" y1="256.9" x2="423" y2="256.9" stroke="#0c0c80" stroke-width="1.6"/>
<text x="427.6" y="262.6" font-size="16">730 mA</text>
<text x="0" y="17" font-size="22.5">(a)</text>
<text transform="translate(18.5,292.8) rotate(-90)" font-size="22.35">Spectrum intensity (dB)</text>
<text x="185" y="343.3" font-size="22.7">Wavenumber (cm<tspan font-size="14.5" dy="-9.3" dx="0.3">-1</tspan><tspan dy="9.3" dx="2">)</tspan></text>
</g>
<g id="pb">
<clipPath id="cb"><rect x="131.7" y="373.6" width="322.0" height="235.0"/></clipPath>
<g clip-path="url(#cb)">
<path fill="#84ccf0" stroke="none" d="M121.6,582.8C122.0,578.7 123.0,566.8 123.8,558.2C124.5,549.5 125.3,539.4 126.1,531.0C126.9,522.6 127.8,513.4 128.4,507.8C129.0,502.2 129.2,499.8 129.6,497.5C129.9,495.2 130.1,493.6 130.5,494.0C130.8,494.4 131.2,496.2 131.7,500.0C132.2,503.8 132.6,510.1 133.3,516.8C134.0,523.5 135.0,532.1 135.9,540.0C136.8,547.9 137.9,558.7 138.6,564.4C139.3,570.1 139.7,571.4 140.1,574.1C140.5,576.9 141.1,579.0 141.3,580.9C141.4,582.7 140.9,584.2 141.0,585.3C141.1,586.4 141.7,587.2 142.1,587.2C142.5,587.3 142.8,586.6 143.2,585.8C143.6,585.0 144.0,583.7 144.4,582.5C144.8,581.2 145.2,579.5 145.7,578.5C146.1,577.5 146.7,576.4 147.1,576.4C147.5,576.4 148.0,577.5 148.4,578.5C148.8,579.5 149.2,581.0 149.7,582.3C150.2,583.6 150.7,585.3 151.2,586.2C151.7,587.2 152.0,587.7 152.5,588.2C153.0,588.6 153.6,588.8 154.1,588.8C154.6,588.9 155.2,588.4 155.7,588.4C156.2,588.4 156.8,588.2 157.3,588.7C157.8,589.2 158.4,590.4 158.9,591.5C159.4,592.5 160.0,594.0 160.5,595.0C161.0,596.0 161.4,596.8 161.9,597.3C162.3,597.8 162.8,598.2 163.2,598.1C163.6,598.0 163.9,597.6 164.3,596.7C164.7,595.9 165.1,595.0 165.5,593.1C165.9,591.1 166.4,588.1 166.9,585.0C167.4,581.8 167.8,579.2 168.5,574.1C169.2,569.0 170.3,561.5 171.2,554.3C172.1,547.1 173.1,538.7 173.9,531.0C174.7,523.3 175.6,516.3 176.2,507.8C176.8,499.3 177.1,489.6 177.5,480.0C177.9,470.4 178.1,461.4 178.6,450.5C179.1,439.6 179.9,423.9 180.5,414.7C181.1,405.4 181.6,399.7 182.0,395.0C182.4,390.3 182.8,388.4 183.1,386.5C183.4,384.6 183.6,384.2 183.8,383.6C184.0,383.0 184.1,382.8 184.3,382.8C184.5,382.8 184.6,383.0 184.8,383.6C185.0,384.2 185.2,384.6 185.5,386.5C185.8,388.4 186.2,390.3 186.6,395.0C187.0,399.7 187.1,405.4 187.7,414.7C188.3,423.9 189.6,439.6 190.2,450.5C190.8,461.4 190.8,472.2 191.2,480.0C191.6,487.8 192.1,492.3 192.7,497.0C193.2,501.7 194.1,505.4 194.5,508.0C194.9,510.6 195.1,511.4 195.4,512.5C195.7,513.6 196.0,514.6 196.3,514.5C196.7,514.4 197.1,513.3 197.5,512.0C197.9,510.7 198.4,508.6 199.0,506.5C199.6,504.4 200.7,500.8 201.2,499.3C201.7,497.8 201.9,497.9 202.2,497.5C202.5,497.1 202.7,496.8 203.0,497.0C203.3,497.2 203.6,497.6 203.9,498.5C204.2,499.4 204.3,499.4 204.7,502.5C205.1,505.6 205.8,510.5 206.5,516.8C207.2,523.0 208.1,531.0 208.9,540.0C209.7,549.0 210.7,562.5 211.5,570.7C212.3,578.9 213.0,584.3 213.7,589.0C214.4,593.6 215.1,596.6 215.5,598.7C215.9,600.7 216.1,600.7 216.3,601.3C216.5,601.9 216.7,602.2 216.9,602.2C217.1,602.1 217.4,601.8 217.7,600.9C218.0,600.1 218.2,600.0 218.7,596.9C219.2,593.9 219.8,589.3 220.5,582.8C221.2,576.3 221.9,566.8 222.7,558.2C223.4,549.5 224.2,539.4 225.0,531.0C225.8,522.6 226.7,513.4 227.3,507.8C227.9,502.2 228.2,499.8 228.5,497.5C228.8,495.2 229.0,493.6 229.4,494.0C229.7,494.4 230.1,496.2 230.6,500.0C231.1,503.8 231.5,510.1 232.2,516.8C232.9,523.5 233.9,532.1 234.8,540.0C235.7,547.9 236.8,558.7 237.5,564.4C238.2,570.1 238.6,571.4 239.0,574.1C239.4,576.9 239.8,579.0 240.2,580.9C240.6,582.7 240.9,584.2 241.3,585.3C241.7,586.4 242.0,587.2 242.4,587.2C242.8,587.3 243.1,586.6 243.5,585.8C243.9,585.0 244.3,583.7 244.7,582.5C245.1,581.2 245.6,579.5 246.0,578.5C246.4,577.5 247.0,576.4 247.4,576.4C247.8,576.4 248.3,577.5 248.7,578.5C249.1,579.5 249.5,581.0 250.0,582.3C250.5,583.6 251.0,585.3 251.5,586.2C252.0,587.2 252.3,587.7 252.8,588.2C253.3,588.6 253.9,588.8 254.4,588.8C254.9,588.9 255.5,588.4 256.0,588.4C256.5,588.4 257.1,588.2 257.6,588.7C258.1,589.2 258.7,590.4 259.2,591.5C259.7,592.5 260.3,594.0 260.8,595.0C261.3,596.0 261.8,596.8 262.2,597.3C262.6,597.8 263.1,598.2 263.5,598.1C263.9,598.0 264.2,597.6 264.6,596.7C265.0,595.9 265.4,595.0 265.8,593.1C266.2,591.1 266.7,588.1 267.2,585.0C267.7,581.8 268.1,579.2 268.8,574.1C269.5,569.0 270.6,561.5 271.5,554.3C272.4,547.1 273.4,538.7 274.2,531.0C275.0,523.3 275.9,516.3 276.5,507.8C277.1,499.3 277.4,489.6 277.8,480.0C278.2,470.4 278.4,461.4 278.9,450.5C279.4,439.6 280.2,423.9 280.8,414.7C281.4,405.4 281.9,399.7 282.3,395.0C282.7,390.3 283.1,388.4 283.4,386.5C283.7,384.6 283.9,384.2 284.1,383.6C284.3,383.0 284.4,382.8 284.6,382.8C284.8,382.8 284.9,383.0 285.1,383.6C285.3,384.2 285.5,384.6 285.8,386.5C286.1,388.4 286.5,390.3 286.9,395.0C287.3,399.7 287.4,405.4 288.0,414.7C288.6,423.9 289.9,439.6 290.5,450.5C291.1,461.4 291.1,472.2 291.5,480.0C291.9,487.8 292.4,492.3 293.0,497.0C293.6,501.7 294.4,505.4 294.8,508.0C295.2,510.6 295.4,511.4 295.7,512.5C296.0,513.6 296.2,514.6 296.6,514.5C297.0,514.4 297.4,513.3 297.8,512.0C298.2,510.7 298.7,508.6 299.3,506.5C299.9,504.4 301.0,500.8 301.5,499.3C302.0,497.8 302.2,497.9 302.5,497.5C302.8,497.1 303.0,496.8 303.3,497.0C303.6,497.2 303.9,497.6 304.2,498.5C304.5,499.4 304.6,499.4 305.0,502.5C305.4,505.6 306.1,510.5 306.8,516.8C307.5,523.0 308.4,531.0 309.2,540.0C310.0,549.0 311.0,562.5 311.8,570.7C312.6,578.9 313.3,584.3 314.0,589.0C314.7,593.6 315.4,596.6 315.8,598.7C316.2,600.7 316.4,600.7 316.6,601.3C316.8,601.9 317.0,602.2 317.2,602.2C317.4,602.1 317.7,601.8 318.0,600.9C318.3,600.1 318.5,600.0 319.0,596.9C319.5,593.9 320.1,589.3 320.8,582.8C321.5,576.3 322.2,566.8 323.0,558.2C323.8,549.5 324.5,539.4 325.3,531.0C326.1,522.6 327.0,513.4 327.6,507.8C328.2,502.2 328.5,499.8 328.8,497.5C329.1,495.2 329.5,494.7 329.7,494.0C329.9,493.3 329.9,492.5 330.2,493.5C330.5,494.5 330.8,496.1 331.3,500.0C331.7,503.9 332.2,510.1 332.9,516.8C333.6,523.5 334.6,532.1 335.5,540.0C336.4,547.9 337.5,558.7 338.2,564.4C338.9,570.1 339.2,571.4 339.7,574.1C340.1,576.9 340.5,579.0 340.9,580.9C341.3,582.7 341.6,584.2 342.0,585.3C342.4,586.4 342.7,587.2 343.1,587.2C343.5,587.3 343.8,586.6 344.2,585.8C344.6,585.0 345.0,583.7 345.4,582.5C345.8,581.2 346.2,579.5 346.7,578.5C347.1,577.5 347.7,576.4 348.1,576.4C348.6,576.4 349.0,577.5 349.4,578.5C349.8,579.5 350.2,581.0 350.7,582.3C351.2,583.6 351.7,585.3 352.2,586.2C352.7,587.2 353.0,587.7 353.5,588.2C354.0,588.6 354.6,588.8 355.1,588.8C355.6,588.9 356.2,588.4 356.7,588.4C357.2,588.4 357.8,588.2 358.3,588.7C358.8,589.2 359.4,590.4 359.9,591.5C360.4,592.5 361.0,594.0 361.5,595.0C362.0,596.0 362.4,596.8 362.9,597.3C363.3,597.8 363.8,598.2 364.2,598.1C364.6,598.0 364.9,597.6 365.3,596.7C365.7,595.9 366.1,595.0 366.5,593.1C366.9,591.1 367.4,588.1 367.9,585.0C368.4,581.8 368.8,579.2 369.5,574.1C370.2,569.0 371.3,561.5 372.2,554.3C373.1,547.1 374.1,538.7 374.9,531.0C375.7,523.3 376.6,516.3 377.2,507.8C377.8,499.3 378.1,489.6 378.5,480.0C378.9,470.4 379.1,461.4 379.6,450.5C380.1,439.6 380.9,423.9 381.5,414.7C382.1,405.4 382.6,399.7 383.0,395.0C383.4,390.3 383.8,388.4 384.1,386.5C384.4,384.6 384.6,384.2 384.8,383.6C385.0,383.0 385.1,382.8 385.3,382.8C385.5,382.8 385.6,383.0 385.8,383.6C386.0,384.2 386.2,384.6 386.5,386.5C386.8,388.4 387.2,390.3 387.6,395.0C388.0,399.7 388.1,405.4 388.7,414.7C389.3,423.9 390.6,439.6 391.2,450.5C391.8,461.4 391.8,472.2 392.2,480.0C392.6,487.8 393.1,492.3 393.7,497.0C394.2,501.7 395.1,505.4 395.5,508.0C395.9,510.6 396.1,511.4 396.4,512.5C396.7,513.6 396.9,514.6 397.3,514.5C397.7,514.4 398.1,513.3 398.5,512.0C398.9,510.7 399.4,508.6 400.0,506.5C400.6,504.4 401.7,500.8 402.2,499.3C402.7,497.8 402.9,497.9 403.2,497.5C403.5,497.1 403.7,496.8 404.0,497.0C404.3,497.2 404.6,497.6 404.9,498.5C405.2,499.4 405.3,499.4 405.7,502.5C406.1,505.6 406.8,510.5 407.5,516.8C408.2,523.0 409.1,531.0 409.9,540.0C410.7,549.0 411.7,562.5 412.5,570.7C413.3,578.9 414.0,584.3 414.7,589.0C415.4,593.6 416.1,596.6 416.5,598.7C416.9,600.7 417.1,600.7 417.3,601.3C417.5,601.9 417.7,602.2 417.9,602.2C418.1,602.1 418.4,601.8 418.7,600.9C419.0,600.1 419.2,600.0 419.7,596.9C420.2,593.9 420.8,589.3 421.5,582.8C422.2,576.3 422.9,566.8 423.7,558.2C424.4,549.5 425.2,539.4 426.0,531.0C426.8,522.6 427.7,513.4 428.3,507.8C428.9,502.2 429.1,499.8 429.5,497.5C429.9,495.2 430.0,493.6 430.4,494.0C430.8,494.4 431.3,496.2 431.8,500.0C432.3,503.8 432.7,510.1 433.4,516.8C434.1,523.5 435.1,532.1 436.0,540.0C436.9,547.9 438.0,558.7 438.7,564.4C439.4,570.1 439.8,571.4 440.2,574.1C440.6,576.9 441.0,579.0 441.4,580.9C441.8,582.7 442.1,584.2 442.5,585.3C442.9,586.4 443.2,587.2 443.6,587.2C444.0,587.3 444.3,586.6 444.7,585.8C445.1,585.0 445.5,583.7 445.9,582.5C446.3,581.2 446.8,579.5 447.2,578.5C447.6,577.5 448.2,576.4 448.6,576.4C449.1,576.4 449.5,577.5 449.9,578.5C450.3,579.5 450.7,581.0 451.2,582.3C451.7,583.6 452.2,585.3 452.7,586.2C453.2,587.2 453.5,587.7 454.0,588.2C454.5,588.6 455.1,588.8 455.6,588.8C456.1,588.9 456.7,588.4 457.2,588.4C457.7,588.4 458.3,588.2 458.8,588.7C459.3,589.2 459.9,590.4 460.4,591.5C460.9,592.5 461.5,594.0 462.0,595.0C462.5,596.0 462.9,596.8 463.4,597.3C463.8,597.8 464.5,598.0 464.7,598.1L464.7,605.9C464.5,605.8 463.8,605.7 463.4,605.3C462.9,604.9 462.5,604.3 462.0,603.6C461.5,602.9 460.9,601.7 460.4,600.9C459.9,600.1 459.3,599.3 458.8,598.9C458.3,598.5 457.7,598.6 457.2,598.6C456.7,598.6 456.1,599.0 455.6,599.0C455.1,598.9 454.5,598.8 454.0,598.4C453.5,598.1 453.2,597.7 452.7,597.0C452.2,596.2 451.7,595.0 451.2,594.1C450.7,593.1 450.3,591.9 449.9,591.1C449.5,590.4 449.1,589.6 448.6,589.6C448.2,589.6 447.6,590.4 447.2,591.1C446.8,591.9 446.3,593.2 445.9,594.1C445.5,595.1 445.1,596.0 444.7,596.6C444.3,597.2 444.0,597.8 443.6,597.8C443.2,597.7 442.9,597.1 442.5,596.3C442.1,595.5 441.8,594.3 441.4,592.9C441.0,591.5 440.6,589.9 440.2,587.9C439.8,585.8 439.4,584.9 438.7,580.6C438.0,576.3 436.9,569.0 436.0,562.0C435.1,555.0 434.1,545.5 433.4,538.8C432.7,532.1 432.3,525.8 431.8,522.0C431.3,518.2 430.8,516.4 430.4,516.0C430.0,515.6 429.9,517.2 429.5,519.5C429.1,521.8 428.9,524.2 428.3,529.8C427.7,535.4 426.8,545.3 426.0,553.0C425.2,560.7 424.4,568.9 423.7,575.8C422.9,582.7 422.2,589.5 421.5,594.4C420.8,599.3 420.2,602.8 419.7,605.1C419.2,607.3 419.0,607.4 418.7,608.1C418.4,608.7 418.1,609.0 417.9,609.0C417.7,609.1 417.5,608.8 417.3,608.3C417.1,607.9 416.9,607.9 416.5,606.3C416.1,604.8 415.4,602.6 414.7,599.0C414.0,595.5 413.3,591.5 412.5,585.3C411.7,579.1 410.7,569.7 409.9,562.0C409.1,554.3 408.2,545.0 407.5,538.8C406.8,532.5 406.1,527.5 405.7,524.5C405.3,521.5 405.2,521.4 404.9,520.5C404.6,519.6 404.3,519.2 404.0,519.0C403.7,518.8 403.5,519.1 403.2,519.5C402.9,519.9 402.7,519.8 402.2,521.3C401.7,522.8 400.6,526.4 400.0,528.5C399.4,530.6 398.9,532.7 398.5,534.0C398.1,535.3 397.7,536.4 397.3,536.5C396.9,536.6 396.7,535.6 396.4,534.5C396.1,533.4 395.9,532.6 395.5,530.0C395.1,527.4 394.2,523.7 393.7,519.0C393.1,514.3 392.6,509.8 392.2,502.0C391.8,494.2 391.8,483.4 391.2,472.5C390.6,461.6 389.3,445.9 388.7,436.7C388.1,427.4 388.0,421.7 387.6,417.0C387.2,412.3 386.8,410.4 386.5,408.5C386.2,406.6 386.0,406.2 385.8,405.6C385.6,405.0 385.5,404.8 385.3,404.8C385.1,404.8 385.0,405.0 384.8,405.6C384.6,406.2 384.4,406.6 384.1,408.5C383.8,410.4 383.4,412.3 383.0,417.0C382.6,421.7 382.1,427.4 381.5,436.7C380.9,445.9 380.1,461.6 379.6,472.5C379.1,483.4 378.9,492.4 378.5,502.0C378.1,511.6 377.8,521.3 377.2,529.8C376.6,538.3 375.7,545.8 374.9,553.0C374.1,560.2 373.1,567.1 372.2,572.9C371.3,578.7 370.2,584.0 369.5,587.9C368.8,591.7 368.4,593.7 367.9,596.0C367.4,598.4 366.9,600.7 366.5,602.1C366.1,603.6 365.7,604.3 365.3,604.9C364.9,605.5 364.6,605.8 364.2,605.9C363.8,606.0 363.3,605.7 362.9,605.3C362.4,604.9 362.0,604.3 361.5,603.6C361.0,602.9 360.4,601.7 359.9,600.9C359.4,600.1 358.8,599.3 358.3,598.9C357.8,598.5 357.2,598.6 356.7,598.6C356.2,598.6 355.6,599.0 355.1,599.0C354.6,598.9 354.0,598.8 353.5,598.4C353.0,598.1 352.7,597.7 352.2,597.0C351.7,596.2 351.2,595.0 350.7,594.1C350.2,593.1 349.8,591.9 349.4,591.1C349.0,590.4 348.6,589.6 348.1,589.6C347.7,589.6 347.1,590.4 346.7,591.1C346.2,591.9 345.8,593.2 345.4,594.1C345.0,595.1 344.6,596.0 344.2,596.6C343.8,597.2 343.5,597.8 343.1,597.8C342.7,597.7 342.4,597.1 342.0,596.3C341.6,595.5 341.3,594.3 340.9,592.9C340.5,591.5 340.1,589.9 339.7,587.9C339.2,585.8 338.9,584.9 338.2,580.6C337.5,576.3 336.4,569.0 335.5,562.0C334.6,555.0 333.6,545.5 332.9,538.8C332.2,532.1 331.7,525.9 331.3,522.0C330.8,518.1 330.5,516.5 330.2,515.5C329.9,514.5 329.9,515.3 329.7,516.0C329.5,516.7 329.1,517.2 328.8,519.5C328.5,521.8 328.2,524.2 327.6,529.8C327.0,535.4 326.1,545.3 325.3,553.0C324.5,560.7 323.8,568.9 323.0,575.8C322.2,582.7 321.5,589.5 320.8,594.4C320.1,599.3 319.5,602.8 319.0,605.1C318.5,607.3 318.3,607.4 318.0,608.1C317.7,608.7 317.4,609.0 317.2,609.0C317.0,609.1 316.8,608.8 316.6,608.3C316.4,607.9 316.2,607.9 315.8,606.3C315.4,604.8 314.7,602.6 314.0,599.0C313.3,595.5 312.6,591.5 311.8,585.3C311.0,579.1 310.0,569.7 309.2,562.0C308.4,554.3 307.5,545.0 306.8,538.8C306.1,532.5 305.4,527.5 305.0,524.5C304.6,521.5 304.5,521.4 304.2,520.5C303.9,519.6 303.6,519.2 303.3,519.0C303.0,518.8 302.8,519.1 302.5,519.5C302.2,519.9 302.0,519.8 301.5,521.3C301.0,522.8 299.9,526.4 299.3,528.5C298.7,530.6 298.2,532.7 297.8,534.0C297.4,535.3 297.0,536.4 296.6,536.5C296.2,536.6 296.0,535.6 295.7,534.5C295.4,533.4 295.2,532.6 294.8,530.0C294.4,527.4 293.6,523.7 293.0,519.0C292.4,514.3 291.9,509.8 291.5,502.0C291.1,494.2 291.1,483.4 290.5,472.5C289.9,461.6 288.6,445.9 288.0,436.7C287.4,427.4 287.3,421.7 286.9,417.0C286.5,412.3 286.1,410.4 285.8,408.5C285.5,406.6 285.3,406.2 285.1,405.6C284.9,405.0 284.8,404.8 284.6,404.8C284.4,404.8 284.3,405.0 284.1,405.6C283.9,406.2 283.7,406.6 283.4,408.5C283.1,410.4 282.7,412.3 282.3,417.0C281.9,421.7 281.4,427.4 280.8,436.7C280.2,445.9 279.4,461.6 278.9,472.5C278.4,483.4 278.2,492.4 277.8,502.0C277.4,511.6 277.1,521.3 276.5,529.8C275.9,538.3 275.0,545.8 274.2,553.0C273.4,560.2 272.4,567.1 271.5,572.9C270.6,578.7 269.5,584.0 268.8,587.9C268.1,591.7 267.7,593.7 267.2,596.0C266.7,598.4 266.2,600.7 265.8,602.1C265.4,603.6 265.0,604.3 264.6,604.9C264.2,605.5 263.9,605.8 263.5,605.9C263.1,606.0 262.6,605.7 262.2,605.3C261.8,604.9 261.3,604.3 260.8,603.6C260.3,602.9 259.7,601.7 259.2,600.9C258.7,600.1 258.1,599.3 257.6,598.9C257.1,598.5 256.5,598.6 256.0,598.6C255.5,598.6 254.9,599.0 254.4,599.0C253.9,598.9 253.3,598.8 252.8,598.4C252.3,598.1 252.0,597.7 251.5,597.0C251.0,596.2 250.5,595.0 250.0,594.1C249.5,593.1 249.1,591.9 248.7,591.1C248.3,590.4 247.8,589.6 247.4,589.6C247.0,589.6 246.4,590.4 246.0,591.1C245.6,591.9 245.1,593.2 244.7,594.1C244.3,595.1 243.9,596.0 243.5,596.6C243.1,597.2 242.8,597.8 242.4,597.8C242.0,597.7 241.7,597.1 241.3,596.3C240.9,595.5 240.6,594.3 240.2,592.9C239.8,591.5 239.4,589.9 239.0,587.9C238.6,585.8 238.2,584.9 237.5,580.6C236.8,576.3 235.7,569.0 234.8,562.0C233.9,555.0 232.9,545.5 232.2,538.8C231.5,532.1 231.1,525.8 230.6,522.0C230.1,518.2 229.7,516.4 229.4,516.0C229.0,515.6 228.8,517.2 228.5,519.5C228.2,521.8 227.9,524.2 227.3,529.8C226.7,535.4 225.8,545.3 225.0,553.0C224.2,560.7 223.4,568.9 222.7,575.8C221.9,582.7 221.2,589.5 220.5,594.4C219.8,599.3 219.2,602.8 218.7,605.1C218.2,607.3 218.0,607.4 217.7,608.1C217.4,608.7 217.1,609.0 216.9,609.0C216.7,609.1 216.5,608.8 216.3,608.3C216.1,607.9 215.9,607.9 215.5,606.3C215.1,604.8 214.4,602.6 213.7,599.0C213.0,595.5 212.3,591.5 211.5,585.3C210.7,579.1 209.7,569.7 208.9,562.0C208.1,554.3 207.2,545.0 206.5,538.8C205.8,532.5 205.1,527.5 204.7,524.5C204.3,521.5 204.2,521.4 203.9,520.5C203.6,519.6 203.3,519.2 203.0,519.0C202.7,518.8 202.5,519.1 202.2,519.5C201.9,519.9 201.7,519.8 201.2,521.3C200.7,522.8 199.6,526.4 199.0,528.5C198.4,530.6 197.9,532.7 197.5,534.0C197.1,535.3 196.7,536.4 196.3,536.5C196.0,536.6 195.7,535.6 195.4,534.5C195.1,533.4 194.9,532.6 194.5,530.0C194.1,527.4 193.2,523.7 192.7,519.0C192.1,514.3 191.6,509.8 191.2,502.0C190.8,494.2 190.8,483.4 190.2,472.5C189.6,461.6 188.3,445.9 187.7,436.7C187.1,427.4 187.0,421.7 186.6,417.0C186.2,412.3 185.8,410.4 185.5,408.5C185.2,406.6 185.0,406.2 184.8,405.6C184.6,405.0 184.5,404.8 184.3,404.8C184.1,404.8 184.0,405.0 183.8,405.6C183.6,406.2 183.4,406.6 183.1,408.5C182.8,410.4 182.4,412.3 182.0,417.0C181.6,421.7 181.1,427.4 180.5,436.7C179.9,445.9 179.1,461.6 178.6,472.5C178.1,483.4 177.9,492.4 177.5,502.0C177.1,511.6 176.8,521.3 176.2,529.8C175.6,538.3 174.7,545.8 173.9,553.0C173.1,560.2 172.1,567.1 171.2,572.9C170.3,578.7 169.2,584.0 168.5,587.9C167.8,591.7 167.4,593.7 166.9,596.0C166.4,598.4 165.9,600.7 165.5,602.1C165.1,603.6 164.7,604.3 164.3,604.9C163.9,605.5 163.6,605.8 163.2,605.9C162.8,606.0 162.3,605.7 161.9,605.3C161.4,604.9 161.0,604.3 160.5,603.6C160.0,602.9 159.4,601.7 158.9,600.9C158.4,600.1 157.8,599.3 157.3,598.9C156.8,598.5 156.2,598.6 155.7,598.6C155.2,598.6 154.6,599.0 154.1,599.0C153.6,598.9 153.0,598.8 152.5,598.4C152.0,598.1 151.7,597.7 151.2,597.0C150.7,596.2 150.2,595.0 149.7,594.1C149.2,593.1 148.8,591.9 148.4,591.1C148.0,590.4 147.5,589.6 147.1,589.6C146.7,589.6 146.1,590.4 145.7,591.1C145.2,591.9 144.8,593.2 144.4,594.1C144.0,595.1 143.6,596.0 143.2,596.6C142.8,597.2 142.5,597.8 142.1,597.8C141.7,597.7 141.1,597.1 141.0,596.3C140.9,595.5 141.4,594.3 141.3,592.9C141.1,591.5 140.5,589.9 140.1,587.9C139.7,585.8 139.3,584.9 138.6,580.6C137.9,576.3 136.8,569.0 135.9,562.0C135.0,555.0 134.0,545.5 133.3,538.8C132.6,532.1 132.2,525.8 131.7,522.0C131.2,518.2 130.8,516.4 130.5,516.0C130.1,515.6 129.9,517.2 129.6,519.5C129.2,521.8 129.0,524.2 128.4,529.8C127.8,535.4 126.9,545.3 126.1,553.0C125.3,560.7 124.5,568.9 123.8,575.8C123.0,582.7 122.0,591.3 121.6,594.4Z"/>
<path fill="none" stroke="#1686c6" stroke-width="3.3" stroke-linejoin="round" d="M121.6,588.6C122.0,585.0 123.0,574.8 123.8,567.0C124.5,559.2 125.3,550.0 126.1,542.0C126.9,534.0 127.8,524.4 128.4,518.8C129.0,513.2 129.2,510.8 129.6,508.5C129.9,506.2 130.1,504.6 130.5,505.0C130.8,505.4 131.2,507.2 131.7,511.0C132.2,514.8 132.6,521.1 133.3,527.8C134.0,534.5 135.0,543.5 135.9,551.0C136.8,558.5 137.9,567.5 138.6,572.5C139.3,577.5 139.7,578.6 140.1,581.0C140.5,583.4 141.1,585.3 141.3,586.9C141.4,588.5 140.9,589.9 141.0,590.8C141.1,591.7 141.7,592.4 142.1,592.5C142.5,592.6 142.8,591.9 143.2,591.2C143.6,590.5 144.0,589.4 144.4,588.3C144.8,587.2 145.2,585.7 145.7,584.8C146.1,583.9 146.7,583.0 147.1,583.0C147.5,583.0 148.0,583.9 148.4,584.8C148.8,585.7 149.2,587.1 149.7,588.2C150.2,589.3 150.7,590.8 151.2,591.6C151.7,592.5 152.0,592.9 152.5,593.3C153.0,593.7 153.6,593.9 154.1,593.9C154.6,593.9 155.2,593.5 155.7,593.5C156.2,593.5 156.8,593.3 157.3,593.8C157.8,594.2 158.4,595.3 158.9,596.2C159.4,597.1 160.0,598.4 160.5,599.3C161.0,600.1 161.4,600.8 161.9,601.3C162.3,601.8 162.8,602.1 163.2,602.0C163.6,601.9 163.9,601.5 164.3,600.8C164.7,600.1 165.1,599.3 165.5,597.6C165.9,595.9 166.4,593.3 166.9,590.5C167.4,587.7 167.8,585.5 168.5,581.0C169.2,576.5 170.3,570.1 171.2,563.6C172.1,557.1 173.1,549.5 173.9,542.0C174.7,534.5 175.6,527.3 176.2,518.8C176.8,510.3 177.1,500.6 177.5,491.0C177.9,481.4 178.1,472.4 178.6,461.5C179.1,450.6 179.9,434.9 180.5,425.7C181.1,416.4 181.6,410.7 182.0,406.0C182.4,401.3 182.8,399.4 183.1,397.5C183.4,395.6 183.6,395.2 183.8,394.6C184.0,394.0 184.1,393.8 184.3,393.8C184.5,393.8 184.6,394.0 184.8,394.6C185.0,395.2 185.2,395.6 185.5,397.5C185.8,399.4 186.2,401.3 186.6,406.0C187.0,410.7 187.1,416.4 187.7,425.7C188.3,434.9 189.6,450.6 190.2,461.5C190.8,472.4 190.8,483.2 191.2,491.0C191.6,498.8 192.1,503.3 192.7,508.0C193.2,512.7 194.1,516.4 194.5,519.0C194.9,521.6 195.1,522.4 195.4,523.5C195.7,524.6 196.0,525.6 196.3,525.5C196.7,525.4 197.1,524.3 197.5,523.0C197.9,521.7 198.4,519.6 199.0,517.5C199.6,515.4 200.7,511.8 201.2,510.3C201.7,508.8 201.9,508.9 202.2,508.5C202.5,508.1 202.7,507.8 203.0,508.0C203.3,508.2 203.6,508.6 203.9,509.5C204.2,510.4 204.3,510.4 204.7,513.5C205.1,516.5 205.8,521.5 206.5,527.8C207.2,534.0 208.1,542.6 208.9,551.0C209.7,559.4 210.7,570.8 211.5,578.0C212.3,585.2 213.0,589.9 213.7,594.0C214.4,598.1 215.1,600.7 215.5,602.5C215.9,604.3 216.1,604.3 216.3,604.8C216.5,605.3 216.7,605.6 216.9,605.6C217.1,605.6 217.4,605.3 217.7,604.5C218.0,603.7 218.2,603.6 218.7,601.0C219.2,598.4 219.8,594.3 220.5,588.6C221.2,582.9 221.9,574.8 222.7,567.0C223.4,559.2 224.2,550.0 225.0,542.0C225.8,534.0 226.7,524.4 227.3,518.8C227.9,513.2 228.2,510.8 228.5,508.5C228.8,506.2 229.0,504.6 229.4,505.0C229.7,505.4 230.1,507.2 230.6,511.0C231.1,514.8 231.5,521.1 232.2,527.8C232.9,534.5 233.9,543.5 234.8,551.0C235.7,558.5 236.8,567.5 237.5,572.5C238.2,577.5 238.6,578.6 239.0,581.0C239.4,583.4 239.8,585.3 240.2,586.9C240.6,588.5 240.9,589.9 241.3,590.8C241.7,591.7 242.0,592.4 242.4,592.5C242.8,592.6 243.1,591.9 243.5,591.2C243.9,590.5 244.3,589.4 244.7,588.3C245.1,587.2 245.6,585.7 246.0,584.8C246.4,583.9 247.0,583.0 247.4,583.0C247.8,583.0 248.3,583.9 248.7,584.8C249.1,585.7 249.5,587.1 250.0,588.2C250.5,589.3 251.0,590.8 251.5,591.6C252.0,592.5 252.3,592.9 252.8,593.3C253.3,593.7 253.9,593.9 254.4,593.9C254.9,593.9 255.5,593.5 256.0,593.5C256.5,593.5 257.1,593.3 257.6,593.8C258.1,594.2 258.7,595.3 259.2,596.2C259.7,597.1 260.3,598.4 260.8,599.3C261.3,600.1 261.8,600.8 262.2,601.3C262.6,601.8 263.1,602.1 263.5,602.0C263.9,601.9 264.2,601.5 264.6,600.8C265.0,600.1 265.4,599.3 265.8,597.6C266.2,595.9 266.7,593.3 267.2,590.5C267.7,587.7 268.1,585.5 268.8,581.0C269.5,576.5 270.6,570.1 271.5,563.6C272.4,557.1 273.4,549.5 274.2,542.0C275.0,534.5 275.9,527.3 276.5,518.8C277.1,510.3 277.4,500.6 277.8,491.0C278.2,481.4 278.4,472.4 278.9,461.5C279.4,450.6 280.2,434.9 280.8,425.7C281.4,416.4 281.9,410.7 282.3,406.0C282.7,401.3 283.1,399.4 283.4,397.5C283.7,395.6 283.9,395.2 284.1,394.6C284.3,394.0 284.4,393.8 284.6,393.8C284.8,393.8 284.9,394.0 285.1,394.6C285.3,395.2 285.5,395.6 285.8,397.5C286.1,399.4 286.5,401.3 286.9,406.0C287.3,410.7 287.4,416.4 288.0,425.7C288.6,434.9 289.9,450.6 290.5,461.5C291.1,472.4 291.1,483.2 291.5,491.0C291.9,498.8 292.4,503.3 293.0,508.0C293.6,512.7 294.4,516.4 294.8,519.0C295.2,521.6 295.4,522.4 295.7,523.5C296.0,524.6 296.2,525.6 296.6,525.5C297.0,525.4 297.4,524.3 297.8,523.0C298.2,521.7 298.7,519.6 299.3,517.5C299.9,515.4 301.0,511.8 301.5,510.3C302.0,508.8 302.2,508.9 302.5,508.5C302.8,508.1 303.0,507.8 303.3,508.0C303.6,508.2 303.9,508.6 304.2,509.5C304.5,510.4 304.6,510.4 305.0,513.5C305.4,516.5 306.1,521.5 306.8,527.8C307.5,534.0 308.4,542.6 309.2,551.0C310.0,559.4 311.0,570.8 311.8,578.0C312.6,585.2 313.3,589.9 314.0,594.0C314.7,598.1 315.4,600.7 315.8,602.5C316.2,604.3 316.4,604.3 316.6,604.8C316.8,605.3 317.0,605.6 317.2,605.6C317.4,605.6 317.7,605.3 318.0,604.5C318.3,603.7 318.5,603.6 319.0,601.0C319.5,598.4 320.1,594.3 320.8,588.6C321.5,582.9 322.2,574.8 323.0,567.0C323.8,559.2 324.5,550.0 325.3,542.0C326.1,534.0 327.0,524.4 327.6,518.8C328.2,513.2 328.5,510.8 328.8,508.5C329.1,506.2 329.5,505.7 329.7,505.0C329.9,504.3 329.9,503.5 330.2,504.5C330.5,505.5 330.8,507.1 331.3,511.0C331.7,514.9 332.2,521.1 332.9,527.8C333.6,534.5 334.6,543.5 335.5,551.0C336.4,558.5 337.5,567.5 338.2,572.5C338.9,577.5 339.2,578.6 339.7,581.0C340.1,583.4 340.5,585.3 340.9,586.9C341.3,588.5 341.6,589.9 342.0,590.8C342.4,591.7 342.7,592.4 343.1,592.5C343.5,592.6 343.8,591.9 344.2,591.2C344.6,590.5 345.0,589.4 345.4,588.3C345.8,587.2 346.2,585.7 346.7,584.8C347.1,583.9 347.7,583.0 348.1,583.0C348.6,583.0 349.0,583.9 349.4,584.8C349.8,585.7 350.2,587.1 350.7,588.2C351.2,589.3 351.7,590.8 352.2,591.6C352.7,592.5 353.0,592.9 353.5,593.3C354.0,593.7 354.6,593.9 355.1,593.9C355.6,593.9 356.2,593.5 356.7,593.5C357.2,593.5 357.8,593.3 358.3,593.8C358.8,594.2 359.4,595.3 359.9,596.2C360.4,597.1 361.0,598.4 361.5,599.3C362.0,600.1 362.4,600.8 362.9,601.3C363.3,601.8 363.8,602.1 364.2,602.0C364.6,601.9 364.9,601.5 365.3,600.8C365.7,600.1 366.1,599.3 366.5,597.6C366.9,595.9 367.4,593.3 367.9,590.5C368.4,587.7 368.8,585.5 369.5,581.0C370.2,576.5 371.3,570.1 372.2,563.6C373.1,557.1 374.1,549.5 374.9,542.0C375.7,534.5 376.6,527.3 377.2,518.8C377.8,510.3 378.1,500.6 378.5,491.0C378.9,481.4 379.1,472.4 379.6,461.5C380.1,450.6 380.9,434.9 381.5,425.7C382.1,416.4 382.6,410.7 383.0,406.0C383.4,401.3 383.8,399.4 384.1,397.5C384.4,395.6 384.6,395.2 384.8,394.6C385.0,394.0 385.1,393.8 385.3,393.8C385.5,393.8 385.6,394.0 385.8,394.6C386.0,395.2 386.2,395.6 386.5,397.5C386.8,399.4 387.2,401.3 387.6,406.0C388.0,410.7 388.1,416.4 388.7,425.7C389.3,434.9 390.6,450.6 391.2,461.5C391.8,472.4 391.8,483.2 392.2,491.0C392.6,498.8 393.1,503.3 393.7,508.0C394.2,512.7 395.1,516.4 395.5,519.0C395.9,521.6 396.1,522.4 396.4,523.5C396.7,524.6 396.9,525.6 397.3,525.5C397.7,525.4 398.1,524.3 398.5,523.0C398.9,521.7 399.4,519.6 400.0,517.5C400.6,515.4 401.7,511.8 402.2,510.3C402.7,508.8 402.9,508.9 403.2,508.5C403.5,508.1 403.7,507.8 404.0,508.0C404.3,508.2 404.6,508.6 404.9,509.5C405.2,510.4 405.3,510.4 405.7,513.5C406.1,516.5 406.8,521.5 407.5,527.8C408.2,534.0 409.1,542.6 409.9,551.0C410.7,559.4 411.7,570.8 412.5,578.0C413.3,585.2 414.0,589.9 414.7,594.0C415.4,598.1 416.1,600.7 416.5,602.5C416.9,604.3 417.1,604.3 417.3,604.8C417.5,605.3 417.7,605.6 417.9,605.6C418.1,605.6 418.4,605.3 418.7,604.5C419.0,603.7 419.2,603.6 419.7,601.0C420.2,598.4 420.8,594.3 421.5,588.6C422.2,582.9 422.9,574.8 423.7,567.0C424.4,559.2 425.2,550.0 426.0,542.0C426.8,534.0 427.7,524.4 428.3,518.8C428.9,513.2 429.1,510.8 429.5,508.5C429.9,506.2 430.0,504.6 430.4,505.0C430.8,505.4 431.3,507.2 431.8,511.0C432.3,514.8 432.7,521.1 433.4,527.8C434.1,534.5 435.1,543.5 436.0,551.0C436.9,558.5 438.0,567.5 438.7,572.5C439.4,577.5 439.8,578.6 440.2,581.0C440.6,583.4 441.0,585.3 441.4,586.9C441.8,588.5 442.1,589.9 442.5,590.8C442.9,591.7 443.2,592.4 443.6,592.5C444.0,592.6 444.3,591.9 444.7,591.2C445.1,590.5 445.5,589.4 445.9,588.3C446.3,587.2 446.8,585.7 447.2,584.8C447.6,583.9 448.2,583.0 448.6,583.0C449.1,583.0 449.5,583.9 449.9,584.8C450.3,585.7 450.7,587.1 451.2,588.2C451.7,589.3 452.2,590.8 452.7,591.6C453.2,592.5 453.5,592.9 454.0,593.3C454.5,593.7 455.1,593.9 455.6,593.9C456.1,593.9 456.7,593.5 457.2,593.5C457.7,593.5 458.3,593.3 458.8,593.8C459.3,594.2 459.9,595.3 460.4,596.2C460.9,597.1 461.5,598.4 462.0,599.3C462.5,600.1 462.9,600.8 463.4,601.3C463.8,601.8 464.5,601.9 464.7,602.0"/>
</g>
<rect x="131.7" y="373.6" width="322.0" height="235.0" fill="none" stroke="#000" stroke-width="1.56"/>
<g stroke="#000" stroke-width="1.56">
<line x1="172.5" y1="608.6" x2="172.5" y2="615.9"/>
<line x1="232.5" y1="608.6" x2="232.5" y2="615.9"/>
<line x1="292.5" y1="608.6" x2="292.5" y2="615.9"/>
<line x1="352.5" y1="608.6" x2="352.5" y2="615.9"/>
<line x1="412.5" y1="608.6" x2="412.5" y2="615.9"/>
<line x1="131.7" y1="608.5" x2="124.4" y2="608.5"/>
<line x1="131.7" y1="537.5" x2="124.4" y2="537.5"/>
<line x1="131.7" y1="466.5" x2="124.4" y2="466.5"/>
<line x1="131.7" y1="395.5" x2="124.4" y2="395.5"/>
</g>
<text x="173.0" y="638.4" font-size="19.8" text-anchor="middle">−50</text>
<text x="233.0" y="638.4" font-size="19.8" text-anchor="middle">−25</text>
<text x="293.0" y="638.4" font-size="19.8" text-anchor="middle">0</text>
<text x="353.0" y="638.4" font-size="19.8" text-anchor="middle">25</text>
<text x="413.0" y="638.4" font-size="19.8" text-anchor="middle">50</text>
<text x="117.8" y="615.5" font-size="19.8" text-anchor="end">0</text>
<text x="117.8" y="544.5" font-size="19.8" text-anchor="end">5</text>
<text x="117.8" y="473.5" font-size="19.8" text-anchor="end">10</text>
<text x="117.8" y="402.5" font-size="19.8" text-anchor="end">15</text>
<text x="-1.2" y="391" font-size="23">(b)</text>
<text transform="translate(81.2,491) rotate(-90)" font-size="21.5" text-anchor="middle">Intensity (a.u.)</text>
<text x="293.4" y="665.8" font-size="21.9" text-anchor="middle">Time (ps)</text>
<g id="ann">
<line x1="255.8" y1="475.2" x2="270.9" y2="475.2" stroke="#000" stroke-width="2.2"/><polygon points="276.9,475.2 267.4,470.2 268.6,475.2 267.4,480.2"/><line x1="313.7" y1="475.2" x2="298.1" y2="475.2" stroke="#000" stroke-width="2.2"/><polygon points="292.1,475.2 301.6,470.2 300.4,475.2 301.6,480.2"/><text x="302.8" y="466.4" font-size="19.8">6.8</text><line x1="190.0" y1="546.5" x2="180.0" y2="546.5" stroke="#000" stroke-width="2.2"/><polygon points="174.0,546.5 183.5,541.5 182.3,546.5 183.5,551.5"/><line x1="190.0" y1="546.5" x2="203.4" y2="546.5" stroke="#000" stroke-width="2.2"/><polygon points="209.4,546.5 199.9,541.5 201.1,546.5 199.9,551.5"/><text x="171.5" y="573" font-size="19.8">15.9</text><line x1="355.0" y1="554.8" x2="344.3" y2="554.8" stroke="#000" stroke-width="2.2"/><polygon points="338.3,554.8 347.8,549.8 346.6,554.8 347.8,559.8"/><line x1="355.0" y1="554.8" x2="367.2" y2="554.8" stroke="#000" stroke-width="2.2"/><polygon points="373.2,554.8 363.7,549.8 364.9,554.8 363.7,559.8"/><text x="337" y="538" font-size="19.8">15.2</text>
</g>
</g>
</svg></body></html>
